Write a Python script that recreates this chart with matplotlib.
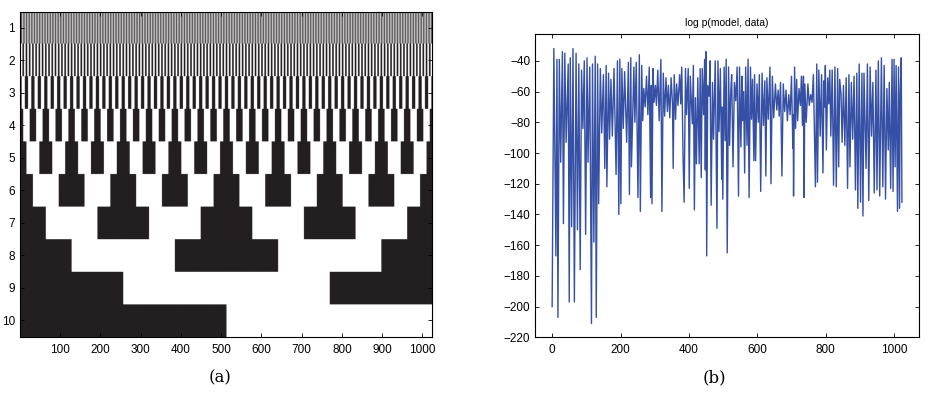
import numpy as np
import matplotlib
matplotlib.use("Agg")
import matplotlib.pyplot as plt
from matplotlib.colors import ListedColormap

# ---------------- data ----------------
n_states = 1024
n_bits = 10
bit_rows = list(range(1, n_bits + 1))          # y tick labels of panel (a)
state_ticks = [100, 200, 300, 400, 500, 600, 700, 800, 900, 1000]

# Panel (a): Gray-code ordering of the 1024 states (black = 0, white = 1)
state_index = np.arange(n_states)
gray_code = state_index ^ (state_index >> 1)
gray_bits = np.array([(gray_code >> b) & 1 for b in range(n_bits)])

# Panel (b): log p(model, data) (turning points)
logp_index = [0, 5, 11, 14, 17, 21, 25, 30, 33, 37, 41, 47, 50, 53, 57, 61, 65, 70, 74, 78,
              82, 86, 90, 94, 98, 102, 105, 110, 115, 118, 122, 126, 129, 133, 136, 141, 145,
              150, 154, 158, 160, 165, 168, 172, 176, 181, 187, 191, 195, 198, 201, 204, 208,
              212, 218, 223, 226, 230, 232, 239, 242, 246, 251, 255, 258, 262, 265, 268, 272,
              276, 280, 284, 288, 290, 292, 295, 298, 302, 305, 309, 313, 318, 321, 325, 329,
              333, 337, 340, 344, 348, 352, 354, 357, 361, 364, 368, 373, 376, 379, 383, 386,
              390, 393, 398, 401, 404, 410, 413, 416, 419, 422, 426, 430, 433, 436, 439, 443,
              446, 448, 450, 452, 455, 459, 462, 465, 469, 472, 477, 482, 485, 488, 492, 496,
              497, 499, 503, 506, 509, 512, 516, 519, 522, 525, 529, 533, 537, 541, 545, 548,
              552, 555, 557, 560, 563, 566, 570, 573, 576, 580, 583, 586, 590, 592, 595, 599,
              603, 606, 610, 614, 618, 622, 625, 628, 632, 637, 640, 644, 648, 653, 657, 661,
              664, 668, 672, 676, 680, 684, 688, 692, 696, 700, 704, 705, 706, 709, 712, 715,
              718, 722, 726, 729, 732, 735, 737, 739, 743, 748, 752, 756, 760, 764, 767, 770,
              774, 776, 780, 784, 788, 792, 795, 797, 799, 802, 806, 809, 812, 815, 819, 823,
              827, 831, 835, 838, 841, 845, 848, 852, 856, 860, 864, 868, 871, 875, 879, 883,
              887, 891, 894, 898, 902, 906, 909, 912, 918, 922, 926, 930, 934, 938, 942, 947,
              950, 954, 958, 963, 967, 971, 975, 979, 983, 986, 990, 994, 997, 1000, 1003, 1006,
              1010, 1013, 1016, 1018, 1021, 1023]
logp_value = [-200, -32, -167, -39, -207, -39, -106, -34, -146, -35, -93, -42, -197, -38, -148,
              -32, -197, -35, -150, -42, -176, -46, -84, -40, -153, -38, -106, -44, -211, -42,
              -158, -37, -207, -42, -133, -45, -87, -49, -110, -43, -122, -48, -91, -52, -89,
              -45, -114, -40, -140, -39, -133, -45, -84, -47, -93, -41, -127, -38, -109, -44,
              -80, -41, -129, -36, -138, -43, -79, -58, -70, -50, -75, -44, -129, -56, -133,
              -45, -67, -56, -69, -46, -79, -39, -138, -48, -76, -51, -73, -56, -77, -51, -68,
              -110, -49, -78, -55, -69, -49, -68, -44, -104, -132, -45, -75, -45, -123, -50,
              -81, -43, -137, -64, -107, -51, -107, -45, -116, -45, -75, -39, -111, -34, -167,
              -56, -63, -40, -134, -54, -91, -40, -149, -40, -86, -45, -117, -70, -130, -44,
              -92, -39, -165, -44, -95, -62, -49, -109, -54, -66, -44, -128, -44, -96, -50,
              -79, -60, -113, -44, -95, -39, -129, -44, -78, -52, -105, -49, -105, -55, -80,
              -49, -125, -48, -82, -53, -115, -51, -78, -44, -120, -50, -77, -55, -72, -59,
              -76, -54, -115, -55, -73, -59, -79, -62, -75, -50, -97, -75, -128, -44, -84, -52,
              -79, -58, -69, -50, -82, -50, -129, -55, -80, -55, -69, -62, -67, -49, -84, -122,
              -42, -119, -46, -89, -49, -113, -53, -70, -43, -98, -51, -68, -46, -89, -46, -121,
              -44, -122, -45, -109, -52, -62, -93, -56, -95, -51, -123, -49, -109, -54, -91,
              -50, -124, -48, -136, -42, -132, -48, -141, -48, -110, -42, -131, -44, -89, -54,
              -126, -46, -124, -40, -128, -38, -122, -43, -130, -58, -98, -54, -123, -39, -125,
              -39, -109, -43, -138, -44, -136, -60, -38, -132]
logp_xticks = [0, 200, 400, 600, 800, 1000]
logp_yticks = [-220, -200, -180, -160, -140, -120, -100, -80, -60, -40]

# ---------------- figure ----------------
plt.rcParams['font.family'] = ['Liberation Sans', 'DejaVu Sans']
fig = plt.figure(figsize=(9.39, 3.93), dpi=100)

tick_kw = dict(direction='in', length=3, width=0.6, labelsize=8.5, colors='black',
               top=True, right=True)

# Panel (a)
ax1 = fig.add_axes([0.0213, 0.1433, 0.4391, 0.827])
cmap = ListedColormap(['#231f20', '#ffffff'])
# repeat rows only for display so that smoothing happens along x, not across rows
display_img = np.repeat(gray_bits, 64, axis=0).astype(float)
ax1.imshow(display_img, cmap=cmap, aspect='auto', interpolation='hanning',
           interpolation_stage='rgba',
           extent=(0.5, n_states + 0.5, n_bits + 0.5, 0.5), vmin=0, vmax=1)
ax1.set_xlim(0.5, n_states + 0.5)
ax1.set_ylim(n_bits + 0.5, 0.5)
ax1.set_xticks(state_ticks)
ax1.set_yticks(bit_rows)
ax1.tick_params(**tick_kw)
ax1.tick_params(axis='x', pad=5)
for s in ax1.spines.values():
    s.set_linewidth(0.8)

# Panel (b)
ax2 = fig.add_axes([0.5698, 0.1417, 0.4093, 0.7718])
ax2.plot(logp_index, logp_value, color='#3550a5', lw=1.0)
ax2.set_xlim(-50, 1074)
ax2.set_ylim(-220, -22.5)
ax2.set_xticks(logp_xticks)
ax2.set_yticks(logp_yticks)
ax2.tick_params(**tick_kw)
ax2.tick_params(axis='x', pad=5)
ax2.set_title('log p(model, data)', fontsize=7.5, pad=6)
for s in ax2.spines.values():
    s.set_linewidth(0.8)

fig.text(0.2343, 0.038, '(a)', ha='center', va='center', fontsize=12,
         family=['DejaVu Serif'])
fig.text(0.7604, 0.038, '(b)', ha='center', va='center', fontsize=12,
         family=['DejaVu Serif'])

fig.savefig('out.png', dpi=100)
